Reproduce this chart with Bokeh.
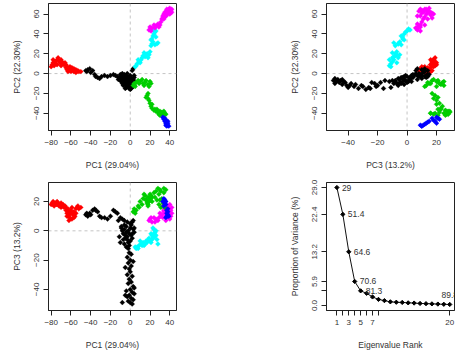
import math
from bokeh.plotting import figure
from bokeh.layouts import column, row
from bokeh.models import FixedTicker, Span, Range1d
from bokeh.core.properties import value
from bokeh.embed import file_html
from bokeh.resources import INLINE

FONT = "Liberation Sans"
TXT = "#333333"

# ---------------- data: principal component scores per group ----------------
red_pc1 = [-80, -79, -78, -77, -76, -75, -74, -73, -72, -71, -70, -69, -68, -67, -66, -65, -64,
           -63, -62, -62, -61, -60, -60, -59, -58, -57, -56, -55, -54, -53, -52, -50, -62,
           -78, -74, -70, -65, -63, -61, -57, -55, -59, -64]
red_pc2 = [7, 9, 11, 8, 12, 10, 14, 16, 13, 11, 14, 12, 10, 9, 11, 6, 4,
           5, 3, 6, 4, 2, 5, 3, 4, 2, 3, 4, 2, 3, 2, 2, 4,
           14, 9, 8, 9, 2, 7, 5, 1, 6, 7]
red_pc3 = [18, 19, 20, 17, 19, 18, 18, 19, 17, 18, 16, 17, 18, 16, 17, 14, 12,
           10, 13, 11, 9, 12, 14, 8, 11, 13, 10, 15, 16, 17, 15, 16, 7,
           18, 20, 19, 16, 15, 12, 9, 12, 16, 10]

black_pc1 = [-45, -44, -43, -41, -40, -38, -36, -35, -33, -31, -29, -26, -23, -20, -17, -15, -13, -10, -8, -6,
             -9, -8, -7, -6, -5, -5, -4, -4, -3, -3, -2, -2, -1, -1, 0, 0, 1, 1, 2, 2, 3, 3, 4, -6, -11, -10,
             -2, -1, -3, 0, -2, 1, -1, 0, -3, 2, -1, 1, -2, 3, 0, -4, 2, 4, -1, -3, 1, 3, -2, 0, 2, -8, -5, 4,
             -7, -4, 0, 2, -9, 1, -6, 3, -5, 4, -3, -12]
black_pc2 = [3, 2, 4, 5, 1, 3, -1, -3, -4, -5, -3, -2, -3, -2, -1, -2, -3, -1, 0, -2,
             -5, -3, -6, -8, -4, -9, -2, -7, -10, -5, -9, -8, -3, -7, -6, -10, -8, -4, -6, 3, 5, -7, -2, -10, -4, -7,
             -8, -7, -9, -12, -10, -9, -14, -16, -13, -12, -15, -11, -13, -10, -14, -12, -9, -8, -11, -7, -9, -6, -8, -5, -7, -10, -6, -12,
             -12, -14, -2, -11, -8, -15, -1, -13, -15, -4, 0, -6]
black_pc3 = [11, 12, 10, 12, 11, 14, 15, 14, 13, 10, 9, 9, 8, 10, 14, 13, 12, 9, 8, 7,
             2, 0, -2, 1, -3, -5, 3, -1, -4, -6, 0, -8, -2, -10, 2, -7, -3, 4, -5, 6, 7, 1, -1, -9, -4, -8,
             -12, -15, -18, -20, -22, -24, -26, -28, -30, -31, -33, -35, -36, -38, -40, -41, -42, -43, -44, -45, -46, -47, -48, -49, -50, -49, -44, -39,
             -6, -11, 5, -2, 3, -16, 4, -21, -25, 2, 6, 7]

cyan_pc1 = [5, 6, 7, 9, 11, 12, 13, 15, 16, 17, 18, 20, 21, 22, 23, 25, 27, 22, 23, 24, 25, 24, 23, 26, 28,
            8, 14, 19, 21, 26, 10]
cyan_pc2 = [7, 8, 10, 12, 14, 16, 18, 17, 19, 20, 16, 22, 28, 30, 32, 29, 30, 35, 38, 40, 42, 45, 44, 37, 31,
            14, 21, 19, 34, 43, 11]
cyan_pc3 = [-11, -12, -11, -10, -9, -10, -8, -9, -7, -8, -6, -7, -8, -6, -5, -4, -6, -3, -4, -2, -1, 1, 2, -3, -9,
            -12, -10, -5, -2, 0, -7]

magenta_pc1 = [19, 20, 22, 24, 26, 28, 29, 31, 32, 33, 34, 35, 35, 36, 37, 37, 38, 38, 39, 39,
               40, 40, 41, 41, 42, 40, 36, 34, 21, 25, 30, 37, 42, 33]
magenta_pc2 = [44, 47, 46, 49, 48, 50, 47, 52, 55, 58, 60, 57, 62, 61, 63, 59, 64, 61, 65, 62,
               66, 63, 64, 61, 65, 60, 58, 55, 43, 46, 49, 65, 62, 56]
magenta_pc3 = [7, 8, 6, 9, 8, 7, 9, 10, 11, 9, 13, 12, 15, 10, 14, 16, 12, 17, 13, 11,
               15, 8, 10, 14, 12, 18, 7, 14, 9, 6, 12, 9, 16, 17]

green_pc1 = [3, 4, 6, 8, 10, 12, 13, 15, 16, 18, 19, 20, 17, 18, 19, 16, 20, 21, 22, 24,
             26, 28, 29, 30, 31, 32, 33, 34, 35, 36, 27, 29, 31,
             5, 9, 14, 21, 18, 22, 25, 34, 30]
green_pc2 = [-12, -10, -9, -7, -8, -6, -10, -9, -7, -11, -13, -8, -22, -25, -27, -24, -30, -33, -35, -37,
             -38, -39, -40, -38, -41, -39, -40, -42, -40, -41, -36, -41, -40,
             -13, -10, -12, -10, -20, -31, -36, -38, -42]
green_pc3 = [13, 15, 14, 17, 20, 18, 22, 24, 21, 23, 20, 25, 19, 18, 20, 21, 22, 24, 23, 26,
             27, 29, 25, 28, 27, 22, 19, 26, 16, 28, 21, 18, 16,
             12, 16, 25, 22, 17, 20, 23, 29, 21]

blue_pc1 = [33, 34, 35, 35, 36, 36, 37, 37, 38, 38, 39, 36, 34, 38, 37]
blue_pc2 = [-44, -46, -45, -48, -47, -50, -49, -51, -52, -50, -53, -52, -45, -48, -53]
blue_pc3 = [20, 22, 21, 19, 18, 20, 14, 12, 11, 13, 10, 9, 17, 15, 10]

group_colors = ["#FF0000", "#000000", "#00FFFF", "#FF00FF", "#00CD00", "#0000FF"]

# ---------------- data: scree plot ----------------
rank = list(range(1, 21))
variance = [29.0, 22.4, 13.2, 5.9, 3.6, 3.0, 2.1, 1.5, 1.2, 0.9,
            0.8, 0.75, 0.65, 0.6, 0.5, 0.45, 0.4, 0.35, 0.3, 0.25]
label_ranks = [1, 2, 3, 4, 5, 20]
label_texts = ["29", "51.4", "64.6", "70.6", "81.3", "89.8"]

# ---------------- tick labels ----------------
pc1_ticks = [-80, -60, -40, -20, 0, 20, 40]
pc2_ticks = [-40, -20, 0, 20, 40, 60]
pc3_ticks_x = [-40, -20, 0, 20]
pc3_ticks_y = [-40, -20, 0, 20]
scree_x_ticks = [1, 2, 3, 4, 5, 6, 7, 8, 20]
scree_x_labels = ["1", "", "3", "", "5", "", "7", "", "20"]
scree_y_ticks = [0.0, 3.6, 5.9, 13.2, 22.4, 29.0]
scree_y_labels = ["0.0", "", "5.9", "13.2", "22.4", "29.0"]

PC1_LABEL = "PC1 (29.04%)"
PC2_LABEL = "PC2 (22.30%)"
PC3_LABEL = "PC3 (13.2%)"

groups = [
    (red_pc1, red_pc2, red_pc3),
    (black_pc1, black_pc2, black_pc3),
    (cyan_pc1, cyan_pc2, cyan_pc3),
    (magenta_pc1, magenta_pc2, magenta_pc3),
    (green_pc1, green_pc2, green_pc3),
    (blue_pc1, blue_pc2, blue_pc3),
]


def make_fig(w, h, left, right, top, bottom, xr, yr, xticks, yticks, xlabel, ylabel,
             xover=None, yover=None):
    p = figure(width=w, height=h, x_range=Range1d(*xr), y_range=Range1d(*yr),
               output_backend="svg", toolbar_location=None,
               min_border_left=left, min_border_right=right,
               min_border_top=top, min_border_bottom=bottom)
    p.grid.visible = False
    p.background_fill_color = "white"
    p.border_fill_color = "white"
    p.outline_line_color = "#222222"
    p.outline_line_width = 1
    p.outline_line_alpha = 1
    p.xaxis.ticker = FixedTicker(ticks=xticks)
    p.yaxis.ticker = FixedTicker(ticks=yticks)
    if xover:
        p.xaxis.major_label_overrides = xover
    if yover:
        p.yaxis.major_label_overrides = yover
    p.xaxis.axis_label = xlabel
    p.yaxis.axis_label = ylabel
    for ax in (p.xaxis[0], p.yaxis[0]):
        ax.axis_line_color = "#222222"
        ax.major_tick_line_color = "#222222"
        ax.major_tick_out = 5
        ax.major_tick_in = 0
        ax.minor_tick_out = 0
        ax.minor_tick_in = 0
        ax.major_label_text_font = FONT
        ax.major_label_text_font_size = "8px"
        ax.major_label_text_color = TXT
        ax.major_label_standoff = 4
        ax.axis_label_text_font = FONT
        ax.axis_label_text_font_size = "8.5px"
        ax.axis_label_text_font_style = "normal"
        ax.axis_label_text_color = TXT
    p.xaxis.axis_label_standoff = 12
    p.yaxis.axis_label_standoff = 10
    p.yaxis.major_label_orientation = "vertical"
    return p


def add_zero_lines(p):
    for dim in ("height", "width"):
        p.add_layout(Span(location=0, dimension=dim, line_color="#c4c4c4",
                          line_dash="3 3", line_width=1, level="underlay"))


def add_points(p, xi, yi):
    for g, col in zip(groups, group_colors):
        p.scatter(x=g[xi], y=g[yi], marker="square", angle=math.pi / 4, size=3.5,
                  fill_color=col, line_color=col, line_width=0.3)


# Panel 1: PC1 vs PC2
p1 = make_fig(237, 177, 48, 61, 3, 47, (-82.7, 46.8), (-57.4, 70.7),
              pc1_ticks, pc2_ticks, PC1_LABEL, PC2_LABEL)
add_zero_lines(p1)
add_points(p1, 0, 1)

# Panel 2: PC3 vs PC2
p2 = make_fig(237, 177, 89, 20, 3, 47, (-54.7, 32.2), (-57.4, 70.7),
              pc3_ticks_x, pc2_ticks, PC3_LABEL, PC2_LABEL)
add_zero_lines(p2)
add_points(p2, 2, 1)

# Panel 3: PC1 vs PC3
p3 = make_fig(237, 178, 48, 61, 5, 45, (-82.7, 46.8), (-54.4, 33.0),
              pc1_ticks, pc3_ticks_y, PC1_LABEL, PC3_LABEL)
add_zero_lines(p3)
add_points(p3, 0, 2)

# Panel 4: scree plot
p4 = make_fig(237, 178, 89, 20, 5, 45, (-0.75, 20.8), (-1.23, 30.23),
              scree_x_ticks, scree_y_ticks, "Eigenvalue Rank", "Proportion of Variance (%)",
              xover=dict(zip(scree_x_ticks, scree_x_labels)),
              yover=dict(zip(scree_y_ticks, scree_y_labels)))
p4.line(rank, variance, line_color="#111111", line_width=1)
p4.scatter(rank, variance, marker="square", angle=math.pi / 4, size=3,
           fill_color="black", line_color="black")
lx = [r for r in label_ranks[:-1]]
ly = [variance[r - 1] for r in label_ranks[:-1]]
p4.text(x=lx, y=ly, text=label_texts[:-1], x_offset=5, text_align="left",
        text_baseline="middle", text_font=value(FONT), text_font_size="8.5px",
        text_color=TXT)
p4.text(x=[label_ranks[-1]], y=[variance[label_ranks[-1] - 1]], text=[label_texts[-1]],
        y_offset=-9, text_align="center", text_baseline="middle",
        text_font=value(FONT), text_font_size="8.5px", text_color=TXT)

layout = column(row(p1, p2), row(p3, p4))
open("out.html", "w").write(file_html(layout, INLINE))
